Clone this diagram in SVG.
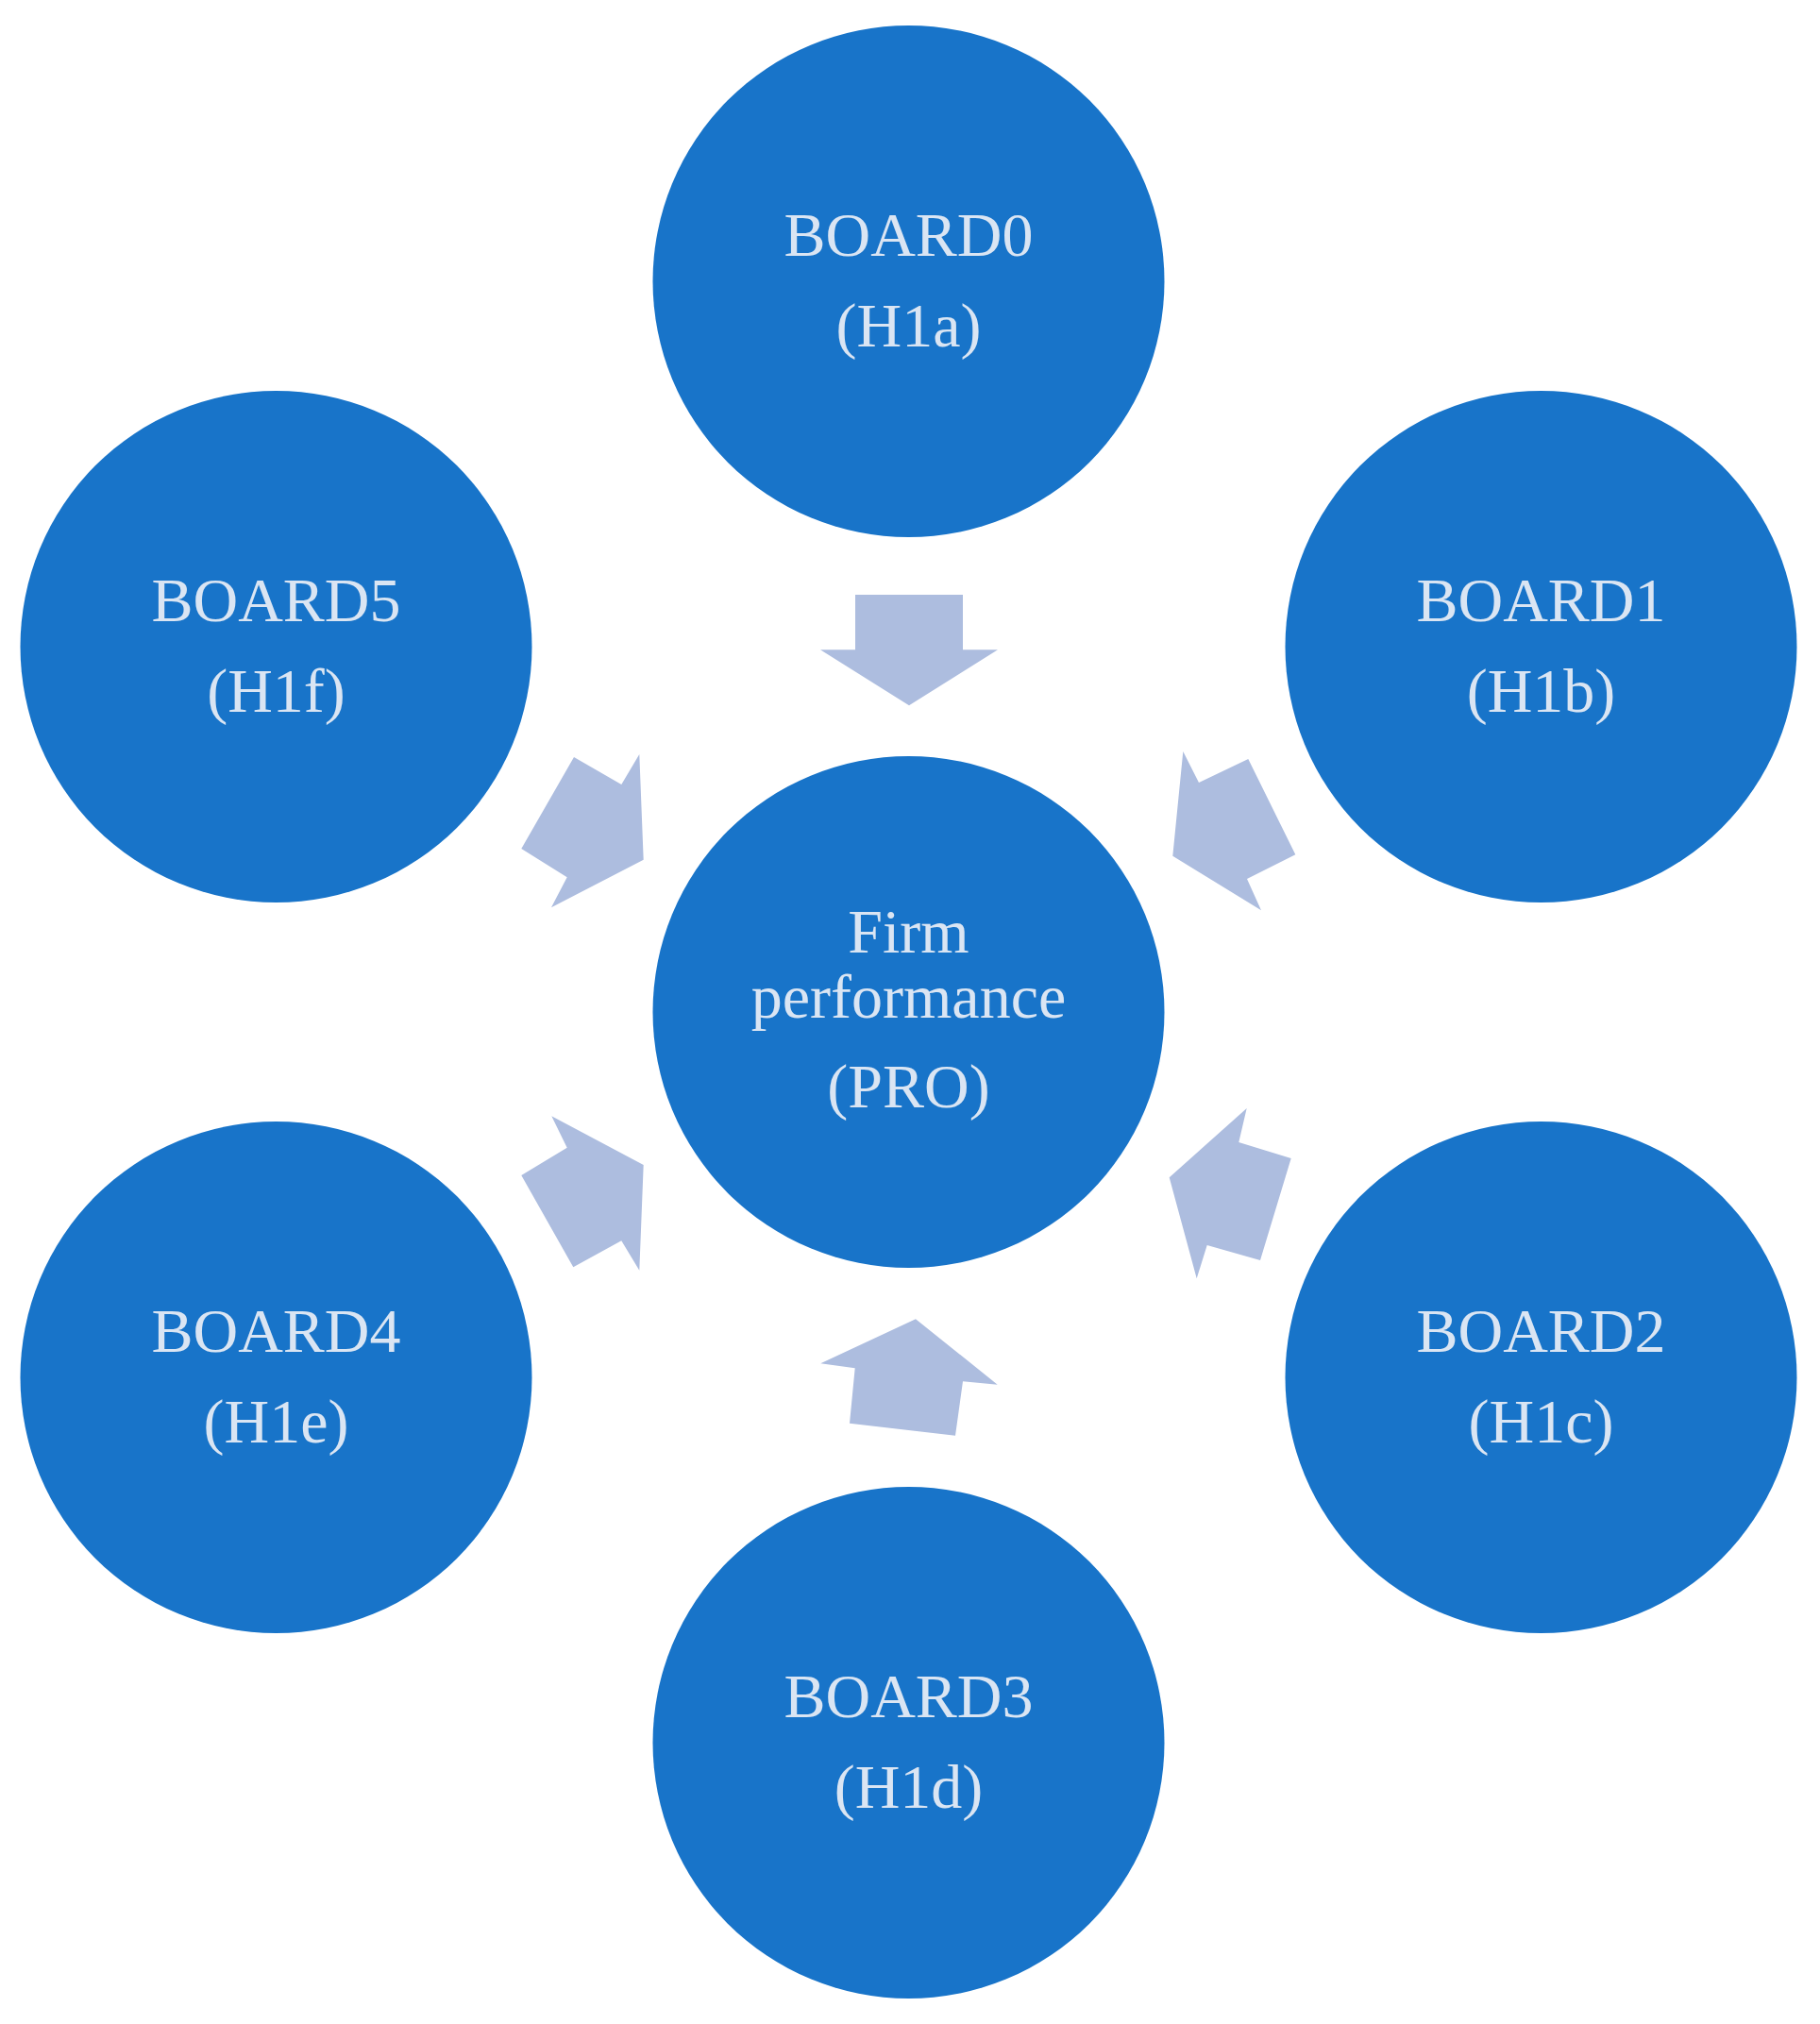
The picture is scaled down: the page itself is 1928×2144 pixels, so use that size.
<svg xmlns="http://www.w3.org/2000/svg" width="1928" height="2144" viewBox="0 0 1928 2144">
<style>
.node{fill:#1874C9;}
.arr{fill:#ADBDDF;}
.lbl{font-family:"Liberation Serif","Times New Roman",serif;font-size:66px;fill:#DAE5F3;text-anchor:middle;}
</style>
<rect width="1928" height="2144" fill="#FFFFFF"/>
<g id="connectors">
<polygon class="arr" points="906,630 1020,630 1020,688.3 1057,688.3 963,747.3 869,688.3 906,688.3"/>
<polygon class="arr" points="1253.3,796 1270,829 1322.3,804 1372.3,905.3 1321,931 1336,964.3 1242.3,906.7"/>
<polygon class="arr" points="1320.7,1174 1312.3,1210 1367.7,1227 1335,1335 1278.7,1319 1267.7,1354.3 1238.7,1247.3"/>
<polygon class="arr" points="869.3,1444.3 970,1397.3 1056.7,1466.7 1020,1463.3 1012,1520.7 900,1507.7 905.7,1449.3"/>
<polygon class="arr" points="584.3,1182.3 681.7,1234 677.3,1345.7 658.3,1314.3 607.3,1342.3 552.3,1245 600.7,1215.7"/>
<polygon class="arr" points="608,802 658.3,831 677.3,799 681.7,910.7 584,961.3 600.7,929.3 552.3,899"/>
</g>
<g id="node-pro">
<circle class="node" cx="962.5" cy="1072" r="271"/>
<text class="lbl" x="962.5" y="1009">Firm</text>
<text class="lbl" x="962.5" y="1078.3">performance</text>
<text class="lbl" x="962.5" y="1173.3">(PRO)</text>
</g>
<g id="node-board0">
<circle class="node" cx="962.5" cy="298" r="271"/>
<text class="lbl" x="962.5" y="270.7">BOARD0</text>
<text class="lbl" x="962.5" y="366.7">(H1a)</text>
</g>
<g id="node-board1">
<circle class="node" cx="1632.5" cy="685" r="271"/>
<text class="lbl" x="1632.5" y="657.7">BOARD1</text>
<text class="lbl" x="1632.5" y="753.7">(H1b)</text>
</g>
<g id="node-board2">
<circle class="node" cx="1632.5" cy="1459" r="271"/>
<text class="lbl" x="1632.5" y="1431.7">BOARD2</text>
<text class="lbl" x="1632.5" y="1527.7">(H1c)</text>
</g>
<g id="node-board3">
<circle class="node" cx="962.5" cy="1846" r="271"/>
<text class="lbl" x="962.5" y="1818.7">BOARD3</text>
<text class="lbl" x="962.5" y="1914.7">(H1d)</text>
</g>
<g id="node-board4">
<circle class="node" cx="292.5" cy="1459" r="271"/>
<text class="lbl" x="292.5" y="1431.7">BOARD4</text>
<text class="lbl" x="292.5" y="1527.7">(H1e)</text>
</g>
<g id="node-board5">
<circle class="node" cx="292.5" cy="685" r="271"/>
<text class="lbl" x="292.5" y="657.7">BOARD5</text>
<text class="lbl" x="292.5" y="753.7">(H1f)</text>
</g>
</svg>
